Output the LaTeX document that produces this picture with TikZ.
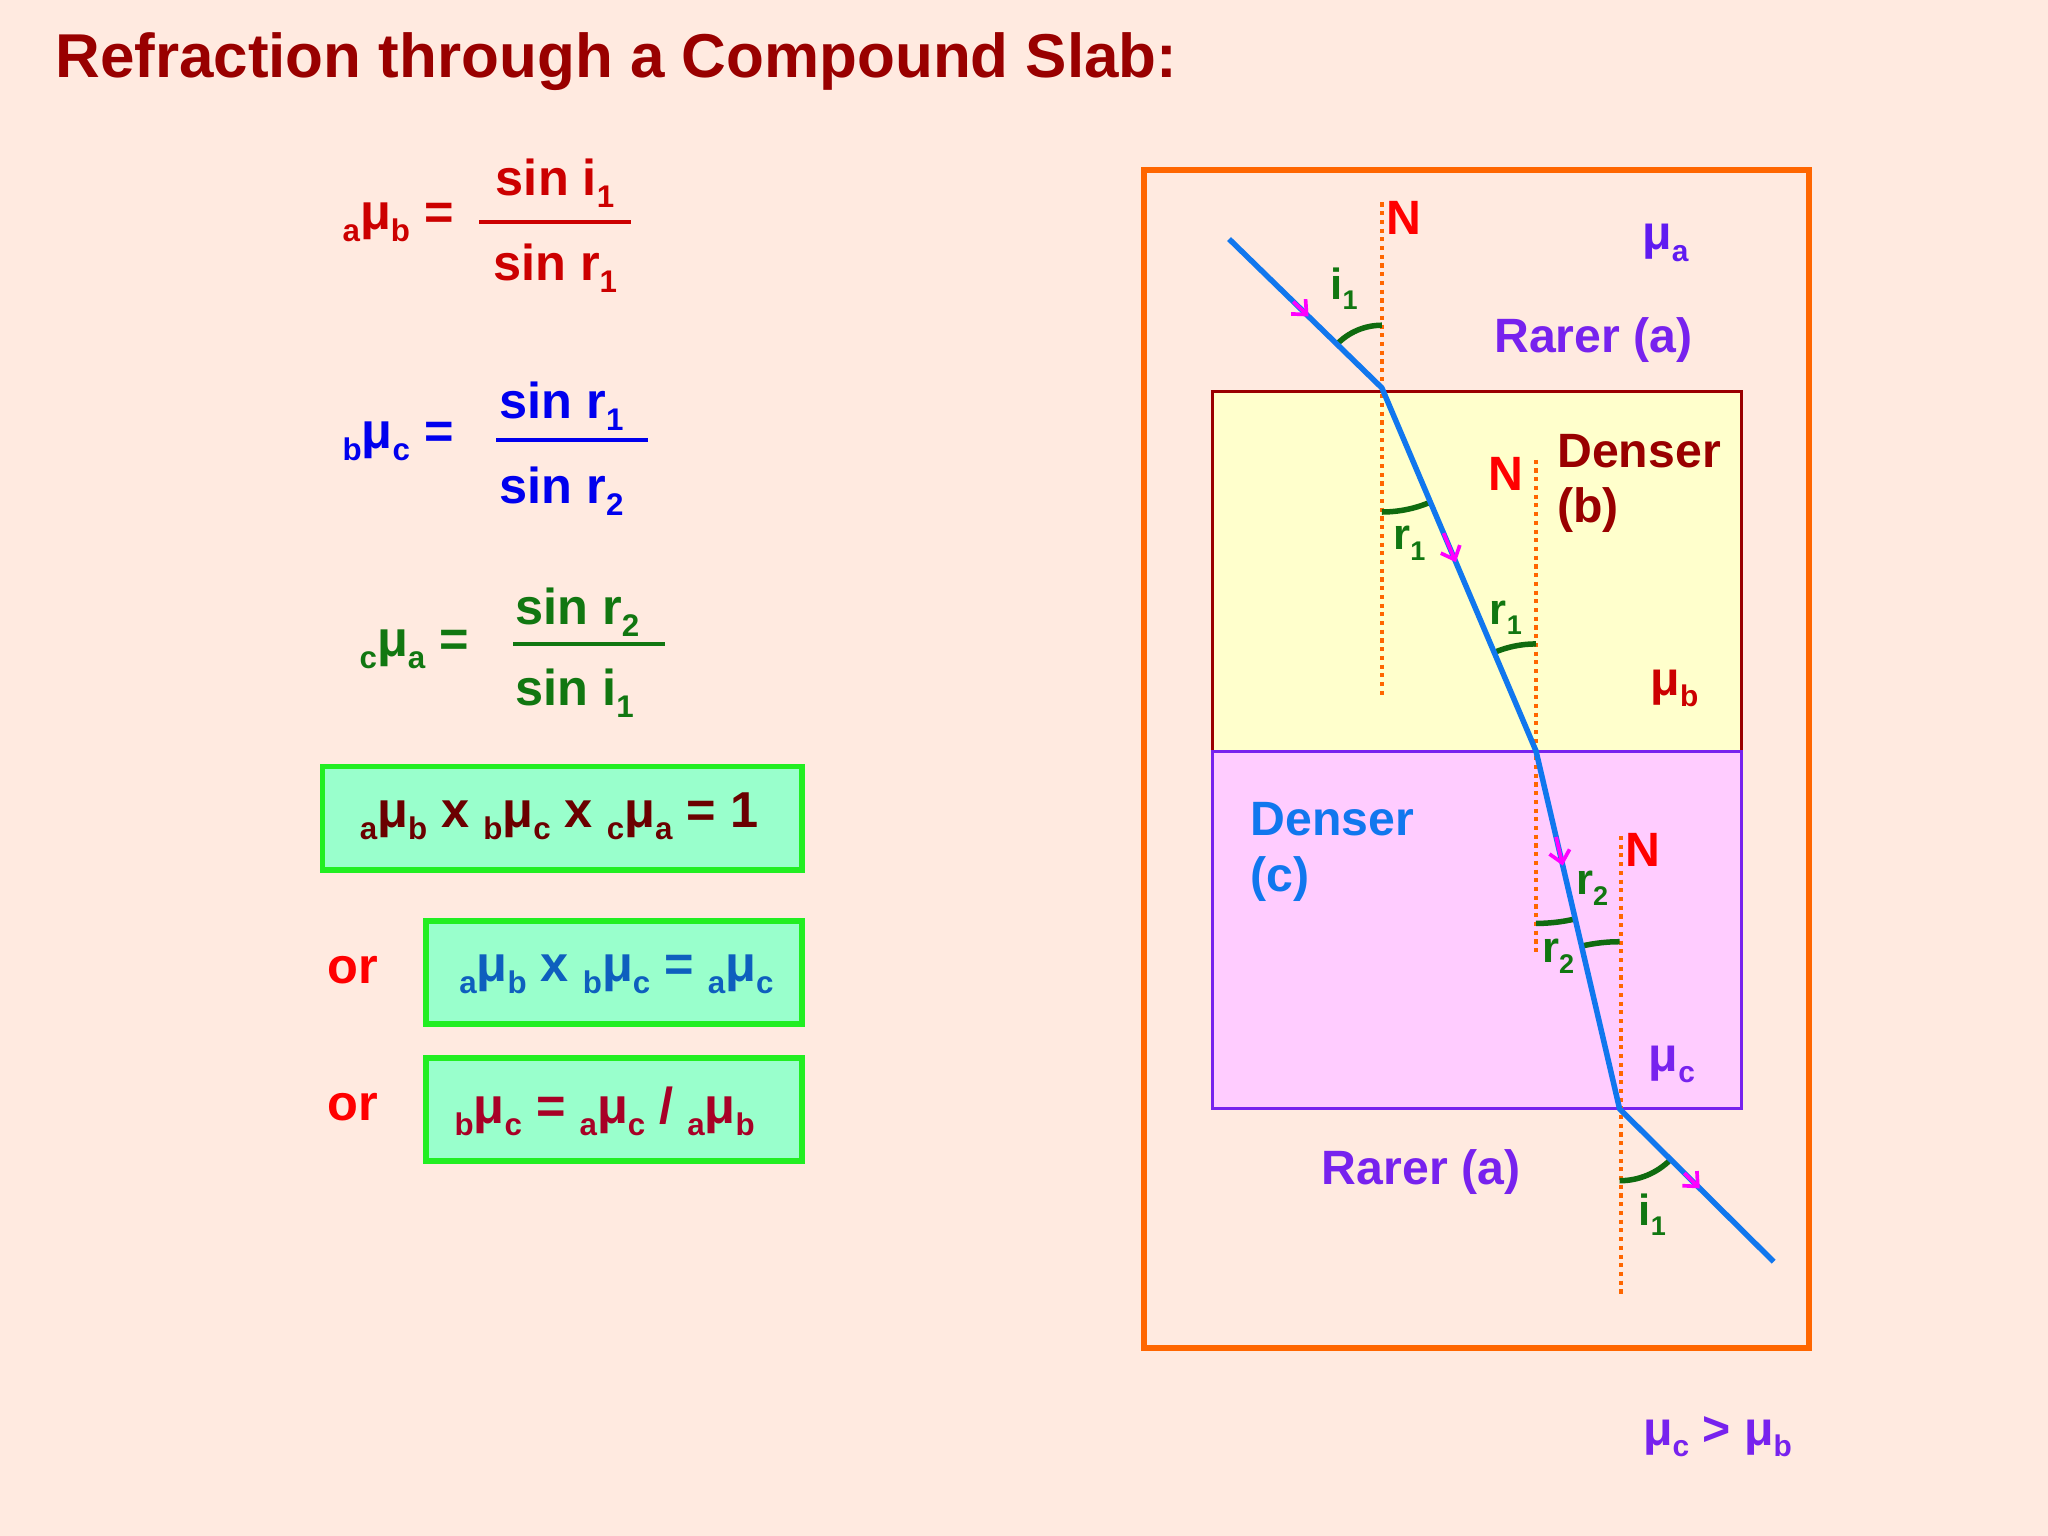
\documentclass[tikz,border=0pt]{standalone}
\usepackage{fontspec}
\setmainfont{Liberation Sans}
\usetikzlibrary{calc,arrows.meta}
\newcommand\lo[1]{\raisebox{-0.45ex}{\scalebox{0.62}{#1}}}
\newcommand\fs[1]{\fontsize{#1}{#1}\selectfont\bfseries}
\definecolor{bg}{HTML}{FFEAE0}
\definecolor{ttl}{HTML}{990000}
\definecolor{rd}{HTML}{CC0000}
\definecolor{bl}{HTML}{0000EE}
\definecolor{gr}{HTML}{117711}
\definecolor{boxf}{HTML}{99FFCC}
\definecolor{boxd}{HTML}{22EE22}
\definecolor{orng}{HTML}{FF6600}
\definecolor{prp}{HTML}{7722EE}
\definecolor{ray}{HTML}{1177EE}
\definecolor{mag}{HTML}{FF00FF}
\definecolor{ylw}{HTML}{FFFFCC}
\definecolor{pnk}{HTML}{FFCCFF}
\tikzset{
  eq/.style={font=\fs{22},inner sep=0pt},
  lab/.style={font=\fs{21},inner sep=0pt},
  ang/.style={font=\fs{19},text=gr,inner sep=0pt},
  nl/.style={font=\fs{21},text=red,inner sep=0pt},
  eqbox/.style={fill=boxf,draw=boxd,line width=2.4pt},
  normal/.style={orng,line width=1.8pt,dotted},
  arc/.style={gr!90!black,line width=2.4pt},
  tip/.style={mag,line width=1.6pt,-{Straight Barb[length=5pt,width=9pt]}}
}
\begin{document}
\begin{tikzpicture}[x=0.02cm,y=0.02cm]
\fill[bg] (0,0) rectangle (1568,-1176);
\useasboundingbox (0,0) rectangle (1568,-1176);
\node[anchor=west,text=ttl,font=\fs{27},inner sep=0pt] (title) at (42,-47) {Refraction through a Compound Slab:};
% eq1
\node[eq,text=rd,anchor=west] (e1) at (262,-170) {\lo{a}μ\lo{b} =};
\node[eq,text=rd] (n1) at (425,-140) {sin i\lo{1}};
\node[eq,text=rd] (d1) at (425,-205) {sin r\lo{1}};
\draw[rd,line width=1.5pt] (367,-170) coordinate (f1a) -- (483,-170) coordinate (f1b);
% eq2
\node[eq,text=bl,anchor=west] (e2) at (262,-338) {\lo{b}μ\lo{c} =};
\node[eq,text=bl] (n2) at (430,-311) {sin r\lo{1}};
\node[eq,text=bl] (d2) at (430,-376) {sin r\lo{2}};
\draw[bl,line width=1.5pt] (380,-337) coordinate (f2a) -- (496,-337) coordinate (f2b);
% eq3
\node[eq,text=gr,anchor=west] (e3) at (275,-497) {\lo{c}μ\lo{a} =};
\node[eq,text=gr] (n3) at (442,-469) {sin r\lo{2}};
\node[eq,text=gr] (d3) at (440,-531) {sin i\lo{1}};
\draw[gr,line width=1.5pt] (393,-493) coordinate (f3a) -- (509,-493) coordinate (f3b);
% boxes
\draw[eqbox] (247,-587) rectangle (614,-666);
\node[eq,text=ttl!70!black] (b1) at (428,-625) {\lo{a}μ\lo{b} x \lo{b}μ\lo{c} x \lo{c}μ\lo{a} = 1};
\node[eq,text=red] (or1) at (270,-743) {or};
\draw[eqbox] (326,-705) rectangle (614,-784);
\node[eq,text=ray!80!black] (b2) at (472,-746) {\lo{a}μ\lo{b} x \lo{b}μ\lo{c} = \lo{a}μ\lo{c}};
\node[eq,text=red] (or2) at (270,-848) {or};
\draw[eqbox] (326,-810) rectangle (614,-889);
\node[eq,text=ttl!85!magenta] (b3) at (463,-851) {\lo{b}μ\lo{c} = \lo{a}μ\lo{c} / \lo{a}μ\lo{b}};
% diagram
\draw[orng,line width=2.4pt] (876,-130) rectangle (1385,-1032);
\draw[fill=ylw,draw=ttl,line width=1.3pt] (928,-300) rectangle (1333,-575);
\draw[fill=pnk,draw=prp,line width=1.3pt] (928,-575) rectangle (1333,-849);
\draw[normal] (1058,-155) -- (1058,-532);
\draw[normal] (1176,-352) -- (1176,-730);
\draw[normal] (1241,-640) -- (1241,-993);
\coordinate (P0) at (941,-183);
\coordinate (P1) at (1058,-297);
\coordinate (P2) at (1176,-575);
\coordinate (P3) at (1240,-849);
\coordinate (P4) at (1358,-966);
% arcs
\draw[arc] (P1) ++(90:48) arc[start angle=90,end angle=136,radius=48];
\draw[arc] (P1) ++(-90:95) arc[start angle=-90,end angle=-67,radius=95];
\draw[arc] (P2) ++(90:82) arc[start angle=90,end angle=113,radius=82];
\draw[arc] (P2) ++(-90:132) arc[start angle=-90,end angle=-77,radius=132];
\draw[arc] (P3) ++(90:128) arc[start angle=90,end angle=103,radius=128];
\draw[arc] (P3) ++(-90:55) arc[start angle=-90,end angle=-45,radius=55];
\draw[ray,line width=2.4pt,line join=round] (P0) -- (P1) -- (P2) -- (P3) -- (P4);
\draw[tip] ($(P0)!0.42!(P1)$) -- ($(P0)!0.52!(P1)$);
\draw[tip] ($(P1)!0.40!(P2)$) -- ($(P1)!0.48!(P2)$);
\draw[tip] ($(P2)!0.24!(P3)$) -- ($(P2)!0.32!(P3)$);
\draw[tip] ($(P3)!0.42!(P4)$) -- ($(P3)!0.52!(P4)$);
\node[nl] (N1) at (1075,-167) {N};
\node[nl] (N2) at (1153,-363) {N};
\node[nl] (N3) at (1258,-651) {N};
\node[ang] (a1) at (1029,-221) {i\lo{1}};
\node[ang] (a2) at (1079,-416) {r\lo{1}};
\node[ang] (a3) at (1153,-473) {r\lo{1}};
\node[ang] (a4) at (1219,-680) {r\lo{2}};
\node[ang] (a5) at (1193,-732) {r\lo{2}};
\node[ang] (a6) at (1265,-930) {i\lo{1}};
\node[lab,text=prp!80!blue] (mua) at (1275,-186) {μ\lo{a}};
\node[lab,text=prp] (r1) at (1220,-260) {Rarer (a)};
\node[lab,text=ttl,anchor=north west,align=left,font=\fs{21}\linespread{1.15}\selectfont] (db) at (1192,-332) {Denser\\(b)};
\node[lab,text=rd] (mub) at (1282,-527) {μ\lo{b}};
\node[lab,text=ray,anchor=north west,align=left,font=\fs{21}\linespread{1.15}\selectfont] (dc) at (957,-614) {Denser\\(c)};
\node[lab,text=prp] (muc) at (1280,-815) {μ\lo{c}};
\node[lab,text=prp] (r2) at (1088,-897) {Rarer (a)};
\node[lab,text=prp] (cmp) at (1315,-1100) {μ\lo{c} > μ\lo{b}};
\end{tikzpicture}
\end{document}
